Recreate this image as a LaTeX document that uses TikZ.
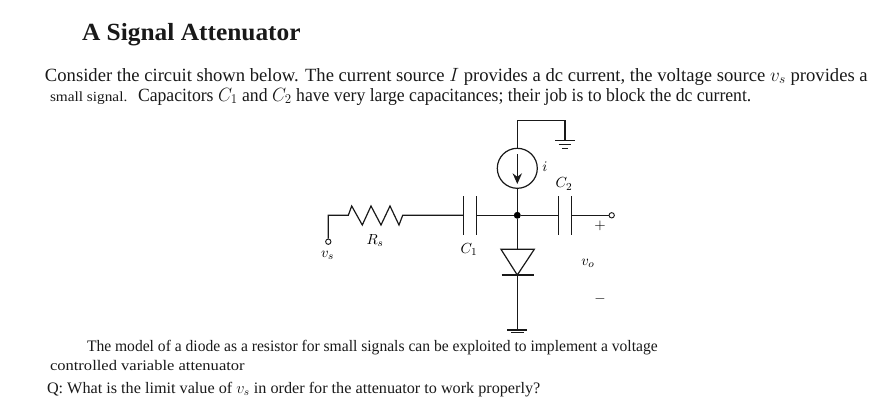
\documentclass[tikz,border=0pt]{standalone}
\usepackage{fontspec}
\setmainfont{Liberation Serif}
\usetikzlibrary{arrows.meta}
\newcommand{\fitw}[2]{\resizebox{#1}{\height}{#2}}
\tikzset{
  wire/.style={draw=black!90,line width=0.9pt},
  txt/.style={anchor=base west,inner sep=0pt,outer sep=0pt,text=black!90},
  lbl/.style={inner sep=0pt,outer sep=0pt,text=black},
  term/.style={circle,draw=black!90,fill=white,line width=0.7pt,minimum size=4pt,inner sep=0pt},
  dot/.style={circle,fill=black,minimum size=5.2pt,inner sep=0pt},
  src/.style={circle,draw=black!90,line width=0.9pt,minimum size=30pt,inner sep=0pt},
  pt/.style={coordinate}
}
\begin{document}
\begin{tikzpicture}[x=0.75pt,y=-0.75pt]
\useasboundingbox (0,0) rectangle (894,411);
% text
\node[txt,font=\bfseries\fontsize{18.5pt}{20pt}\selectfont] (title) at (82,40) {\fitw{164pt}{A Signal Attenuator}};
\node[txt,font=\fontsize{14pt}{15pt}\selectfont] (l1) at (45,81) {\fitw{617pt}{Consider the circuit shown below. The current source $I$ provides a dc current, the voltage source $v_s$ provides a}};
\node[txt,font=\fontsize{10.5pt}{12pt}\selectfont] (l2a) at (50,101) {\fitw{58pt}{small signal.}};
\node[txt,font=\fontsize{14pt}{15pt}\selectfont] (l2b) at (138,101) {\fitw{460pt}{Capacitors $C_1$ and $C_2$ have very large capacitances; their job is to block the dc current.}};
\node[txt,font=\fontsize{12pt}{14pt}\selectfont] (l3) at (87,351) {\fitw{428pt}{The model of a diode as a resistor for small signals can be exploited to implement a voltage}};
\node[txt,font=\fontsize{11pt}{13pt}\selectfont] (l4) at (50,370) {\fitw{146pt}{controlled variable attenuator}};
\node[txt,font=\fontsize{12pt}{14pt}\selectfont] (l5) at (47,393) {\fitw{370pt}{Q: What is the limit value of $v_s$ in order for the attenuator to work properly?}};
% circuit nodes
\node[term] (vs) at (328.3,241.7) {};
\coordinate (corner) at (328.3,215.3);
\coordinate (ra) at (348.3,215.3);
\coordinate (rb) at (402.7,215.3);
\coordinate (c1a) at (463.7,215.3);
\coordinate (c1b) at (476.7,215.3);
\node[dot] (j) at (517.3,215.3) {};
\coordinate (c2a) at (558.3,215.3);
\coordinate (c2b) at (571.7,215.3);
\node[term] (vo) at (611.7,215.3) {};
\node[src] (i) at (517.3,168.3) {};
\coordinate (top) at (517.3,120.7);
\coordinate (topr) at (565,120.7);
\coordinate (g1) at (565,140.7);
\coordinate (da) at (517.3,249.3);
\coordinate (dk) at (517.3,275);
\coordinate (g2) at (517.3,330);
% wires
\draw[wire] (vs) -- (corner) -- (ra)
  -- (351.7,206) -- (362.3,225) -- (371,206) -- (381,225) -- (390,206) -- (399,225) -- (rb)
  -- (c1a);
\draw[wire] (c1b) -- (j) -- (c2a);
\draw[wire] (c2b) -- (vo);
\draw[wire] (j) -- (i);
\draw[wire] (i) -- (top) -- (topr) -- (g1);
\draw[wire] (j) -- (da);
\draw[wire] (dk) -- (g2);
% capacitor plates
\draw[wire] ([yshift=-14.6pt]c1a) -- ([yshift=14.6pt]c1a);
\draw[wire] ([yshift=-14.6pt]c1b) -- ([yshift=14.6pt]c1b);
\draw[wire] ([yshift=-14.6pt]c2a) -- ([yshift=14.6pt]c2a);
\draw[wire] ([yshift=-14.6pt]c2b) -- ([yshift=14.6pt]c2b);
% source arrow
\coordinate (ia) at (517.3,154);
\coordinate (ib) at (517.3,184);
\draw[wire,-{Stealth[length=8pt,width=7pt]}] (ia) -- (ib);
% diode
\draw[wire] (501,249.3) -- (534.3,249.3) -- (dk) -- cycle;
\draw[wire] (501.5,275) -- (533.5,275);
% grounds
\draw[wire] ([xshift=-7.5pt]g1) -- ([xshift=7.5pt]g1);
\draw[wire] ([xshift=-4.7pt,yshift=-3pt]g1) -- ([xshift=4.7pt,yshift=-3pt]g1);
\draw[wire] ([xshift=-2.3pt,yshift=-6pt]g1) -- ([xshift=2.3pt,yshift=-6pt]g1);
\draw[wire] ([xshift=-7.5pt]g2) -- ([xshift=7.5pt]g2);
\draw[wire] ([xshift=-4.7pt,yshift=-2pt]g2) -- ([xshift=4.7pt,yshift=-2pt]g2);
% labels
\node[lbl,font=\fontsize{11pt}{12pt}\selectfont] (lvs) at (327.5,255.5) {$v_s$};
\node[lbl,font=\fontsize{11pt}{12pt}\selectfont] (lrs) at (375,240.5) {$R_s$};
\node[lbl,font=\fontsize{11pt}{12pt}\selectfont] (lc1) at (469,249.5) {$C_1$};
\node[lbl,font=\fontsize{11pt}{12pt}\selectfont] (lc2) at (564,184) {$C_2$};
\node[lbl,font=\fontsize{11pt}{12pt}\selectfont] (li) at (545,167) {$i$};
\node[lbl,font=\fontsize{11pt}{12pt}\selectfont] (lp) at (600,226) {$+$};
\node[lbl,font=\fontsize{11pt}{12pt}\selectfont] (lvo) at (588,263) {$v_o$};
\node[lbl,font=\fontsize{11pt}{12pt}\selectfont] (lm) at (600,298.5) {$-$};
\end{tikzpicture}
\end{document}
